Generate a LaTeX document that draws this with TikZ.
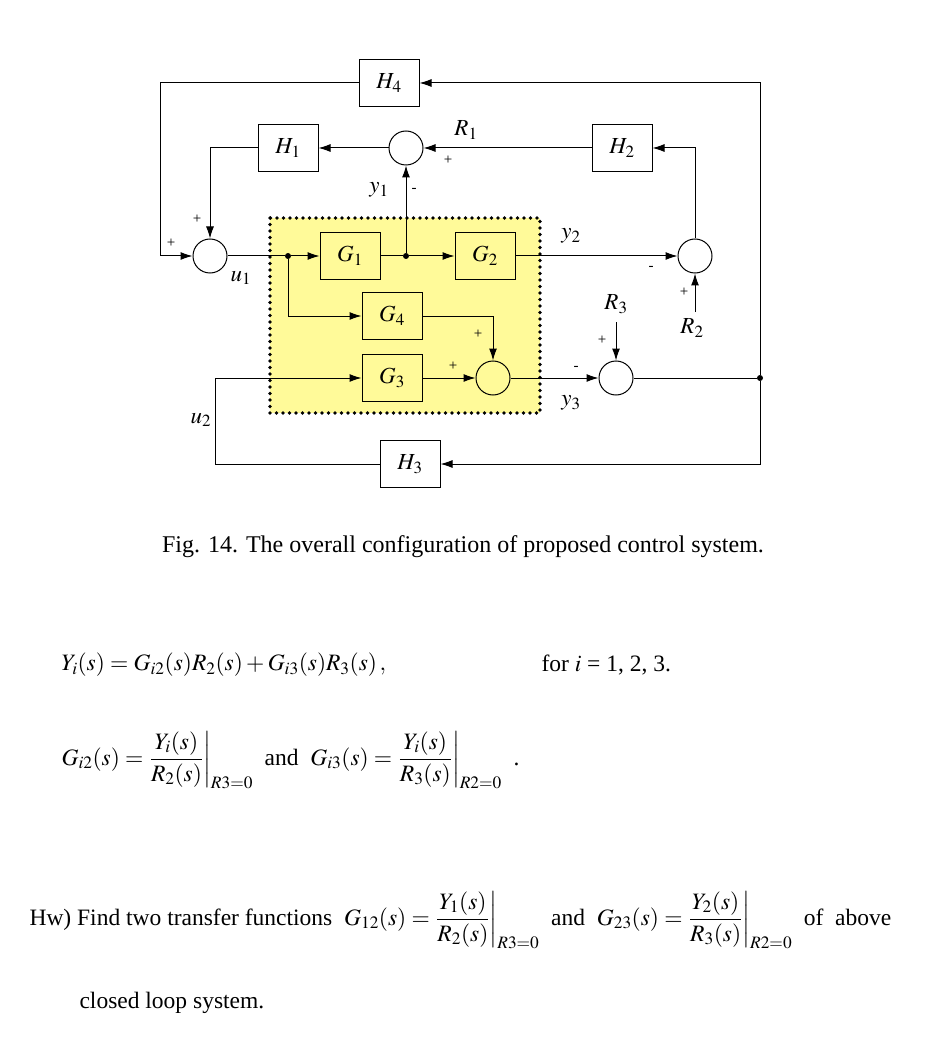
\documentclass[tikz,border=0pt]{standalone}
\usepackage{amsmath}
\usepackage{mathptmx}
\usepackage{fontspec}
\setmainfont{Liberation Serif}
\usetikzlibrary{arrows.meta}
\begin{document}
\begin{tikzpicture}[x=1pt,y=-1pt,
  blk/.style={draw,line width=1pt,minimum width=60pt,minimum height=47pt,inner sep=0pt,font=\fontsize{23}{25}\selectfont},
  sum/.style={draw,circle,line width=1pt,minimum size=34pt,inner sep=0pt},
  ar/.style={line width=1pt,-{Latex[length=12pt,width=8pt]}},
  ln/.style={line width=1pt},
  dot/.style={circle,fill,inner sep=0pt,minimum size=6pt},
  lb/.style={font=\fontsize{23}{25}\selectfont},
  pm/.style={font=\fontsize{15}{16}\selectfont},
  tx/.style={font=\fontsize{23.5}{27}\selectfont}]
\useasboundingbox (0,0) rectangle (934,1064);
\fill[yellow!40] (270,218) rectangle (540,413);
\draw[line width=3.6pt,dash pattern=on 0pt off 6.5pt,line cap=round] (270,218) rectangle (540,413);
% blocks
\node[blk] (H4) at (389,83) {$H_4$};
\node[blk] (H1) at (288,148) {$H_1$};
\node[blk] (H2) at (622,148) {$H_2$};
\node[blk] (G1) at (350,256) {$G_1$};
\node[blk] (G2) at (485,256) {$G_2$};
\node[blk] (G4) at (392,316) {$G_4$};
\node[blk] (G3) at (392,378) {$G_3$};
\node[blk] (H3) at (410,464) {$H_3$};
\node[sum] (S1) at (406,148) {};
\node[sum] (S0) at (210,256) {};
\node[sum] (S2) at (695,256) {};
\node[sum] (S4) at (493,378) {};
\node[sum] (S3) at (616,378) {};
\node[dot] (d1) at (288,256) {};
\node[dot] (d2) at (406,256) {};
\node[dot] (d3) at (760,378) {};
\coordinate (cL) at (160,83);
\coordinate (cU2) at (215,378);
\coordinate (R2s) at (695,312);
\coordinate (R3s) at (616,322);
% connections
\draw[ar] (S0) -- (d1) -- (G1);
\draw[ar] (G1) -- (d2) -- (G2);
\draw[ar] (d2) -- (S1);
\draw[ar] (G2) -- (S2);
\draw[ar] (d1) |- (G4);
\draw[ar] (G4) -| (S4);
\draw[ar] (cU2) -- (G3);
\draw[ar] (G3) -- (S4);
\draw[ar] (S4) -- (S3);
\draw[ln] (S3) -- (d3);
\draw[ar] (d3) |- (H3);
\draw[ln] (H3) -| (cU2);
\draw[ar] (d3) |- (H4);
\draw[ar] (H4) -| (cL) |- (S0);
\draw[ar] (S1) -- (H1);
\draw[ar] (H1) -| (S0);
\draw[ar] (H2) -- (S1);
\draw[ar] (S2) |- (H2);
\draw[ar] (R2s) -- (S2);
\draw[ar] (R3s) -- (S3);
% labels
\node[lb] at (466,130) {$R_1$};
\node[pm] at (448,160) {+};
\node[lb] at (379,190) {$y_1$};
\node[pm] at (414,190) {-};
\node[lb] at (571,236) {$y_2$};
\node[pm] at (651,268) {-};
\node[pm] at (684,292) {+};
\node[lb] at (692,328) {$R_2$};
\node[lb] at (616,304) {$R_3$};
\node[pm] at (602,340) {+};
\node[pm] at (478,334) {+};
\node[pm] at (453,366) {+};
\node[pm] at (576,368) {-};
\node[lb] at (571,403) {$y_3$};
\node[lb] at (241,278) {$u_1$};
\node[lb] at (201,420) {$u_2$};
\node[pm] at (197,219) {+};
\node[pm] at (171,243) {+};
% caption and text
\node[font=\fontsize{24}{28}\selectfont] (cap) at (463,547) {Fig. 14. The overall configuration of proposed control system.};
\node[anchor=west,tx] (e1) at (58,665) {$Y_i(s)=G_{i2}(s)R_2(s)+G_{i3}(s)R_3(s)\,,$};
\node[anchor=west,tx] (e1b) at (538,665) {for $i$ = 1, 2, 3.};
\node[anchor=west,tx] (e2) at (58,760) {$G_{i2}(s)=\left.\dfrac{Y_i(s)}{R_2(s)}\right|_{R3=0}$ \ and \ $G_{i3}(s)=\left.\dfrac{Y_i(s)}{R_3(s)}\right|_{R2=0}$ \ .};
\node[anchor=west,tx] (e3) at (26,920) {Hw) Find two transfer functions \ $G_{12}(s)=\left.\dfrac{Y_1(s)}{R_2(s)}\right|_{R3=0}$ \ and \ $G_{23}(s)=\left.\dfrac{Y_2(s)}{R_3(s)}\right|_{R2=0}$ \ of \ above};
\node[anchor=west,tx] (e4) at (76,1003) {closed loop system.};
\end{tikzpicture}
\end{document}
